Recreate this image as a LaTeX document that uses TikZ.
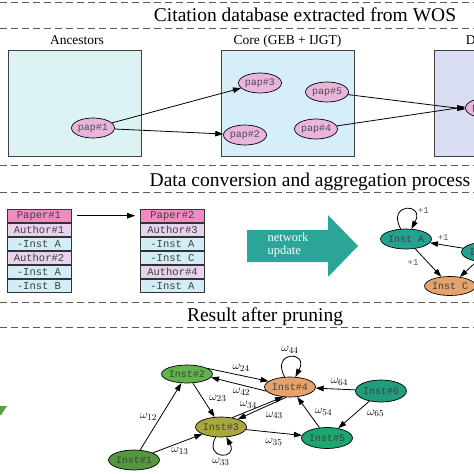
\documentclass[tikz,border=0pt]{standalone}
\usepackage{fontspec}
\setmainfont{Liberation Serif}
\setmonofont{Liberation Mono}
\usetikzlibrary{arrows.meta,shapes.geometric,positioning}

\definecolor{ancfill}{HTML}{DDF3F3}
\definecolor{corefill}{HTML}{D5EEF8}
\definecolor{descfill}{HTML}{D9DDF1}
\definecolor{papink}{HTML}{E9B5DC}
\definecolor{paperrow}{HTML}{EE8CC2}
\definecolor{authrow}{HTML}{E6D3EC}
\definecolor{instrow}{HTML}{D2EDF6}
\definecolor{tealarr}{HTML}{2AA597}
\definecolor{tealnode}{HTML}{23A38F}
\definecolor{orangenode}{HTML}{E5A26B}
\definecolor{greennode}{HTML}{62B34A}
\definecolor{olivenode}{HTML}{A9A73E}
\definecolor{sealnode}{HTML}{1E9E7C}

\tikzset{
  sep/.style={draw=black!65,line width=1pt,dash pattern=on 7pt off 4pt},
  title/.style={anchor=base,font=\fontsize{19.5}{20}\selectfont},
  grplbl/.style={anchor=base,font=\fontsize{13.5}{14}\selectfont},
  grp/.style={draw=black!75,line width=0.9pt,inner sep=0pt},
  pap/.style={ellipse,draw,line width=0.7pt,fill=papink,inner sep=0pt,
    minimum width=43pt,minimum height=20pt,text=black!70,
    font=\ttfamily\fontsize{10}{10}\selectfont},
  inst/.style={ellipse,draw,line width=0.7pt,inner sep=0pt,
    minimum width=42pt,minimum height=20pt,text=black!75,
    font=\ttfamily\fontsize{10}{10}\selectfont},
  row/.style={draw=black!80,line width=0.7pt,minimum width=64pt,
    minimum height=13.3pt,inner sep=0pt,text=black!75,
    font=\ttfamily\fontsize{10.5}{10}\selectfont},
  plus/.style={text=black!65,font=\ttfamily\fontsize{9}{9}\selectfont},
  wlbl/.style={font=\fontsize{13}{13}\selectfont},
  link/.style={->,line width=0.8pt},
  selfup/.style={loop above,out=118,in=62,min distance=30pt},
  selfdown/.style={loop below,out=-118,in=-62,min distance=26pt},
}

\begin{document}
\begin{tikzpicture}[x=1pt,y=-1pt,>={Triangle[length=8pt,width=5.5pt]}]
\useasboundingbox (0,0) rectangle (474,474);
\clip (0,0) rectangle (474,474);

% citation database
\draw[sep] (0,2) -- (474,2);
\node[title] (ttla) at (305,21) {Citation database extracted from WOS};
\draw[sep] (0,28) -- (474,28);

\node[grp,fill=ancfill,minimum width=133pt,minimum height=106pt] (anc) at (74.5,103) {};
\node[grp,fill=corefill,minimum width=133pt,minimum height=106pt] (core) at (287.5,103) {};
\node[grp,fill=descfill,minimum width=133pt,minimum height=106pt] (desc) at (500.5,103) {};
\node[grplbl] (ancl) at (77,44) {Ancestors};
\node[grplbl] (corel) at (287.5,44) {Core (GEB + IJGT)};
\node[grplbl] (descl) at (500,44) {Descendants};

\node[pap] (p1) at (93,128) {pap\#1};
\node[pap] (p2) at (245,135) {pap\#2};
\node[pap] (p3) at (260,83) {pap\#3};
\node[pap] (p4) at (316,129) {pap\#4};
\node[pap] (p5) at (327,92) {pap\#5};
\node[pap] (p6) at (487,108) {pap\#6};

\path (p1) edge[link] (p3);
\path (p1) edge[link] (p2);
\path (p5) edge[link] (p6.183);
\path (p4) edge[link] (p6.177);

% conversion
\draw[sep] (0,165) -- (474,165);
\node[title] (ttlb) at (310,186) {Data conversion and aggregation process};
\draw[sep] (0,192) -- (474,192);

\node[row,fill=paperrow] (ra1) at (39,215.7) {Paper\#1};
\node[row,fill=authrow,below=0pt of ra1] (ra2) {Author\#1};
\node[row,fill=instrow,below=0pt of ra2] (ra3) {-Inst A};
\node[row,fill=authrow,below=0pt of ra3] (ra4) {Author\#2};
\node[row,fill=instrow,below=0pt of ra4] (ra5) {-Inst A};
\node[row,fill=instrow,below=0pt of ra5] (ra6) {-Inst B};

\node[row,fill=paperrow] (rb1) at (172.5,215.7) {Paper\#2};
\node[row,fill=authrow,below=0pt of rb1] (rb2) {Author\#3};
\node[row,fill=instrow,below=0pt of rb2] (rb3) {-Inst A};
\node[row,fill=instrow,below=0pt of rb3] (rb4) {-Inst C};
\node[row,fill=authrow,below=0pt of rb4] (rb5) {Author\#4};
\node[row,fill=instrow,below=0pt of rb5] (rb6) {-Inst A};

\draw[link] ([xshift=6pt]ra1.east) -- ([xshift=-5pt]rb1.west);

\fill[tealarr] (247,230) -- (328,230) -- (328,215) -- (358,246)
  -- (328,277) -- (328,262) -- (247,262) -- cycle;
\node[text=white,align=left,anchor=west,font=\fontsize{12.5}{12.5}\selectfont] (upd) at (264,245) {network\\update};

\node[inst,fill=tealnode] (ia) at (406,239) {Inst A};
\node[inst,fill=tealnode,minimum width=44pt] (ib) at (487,252) {Inst B};
\node[inst,fill=orangenode,minimum width=43pt,minimum height=19pt] (ic) at (450,286) {Inst C};

\path (ia) edge[link,selfup] node[plus,right=3pt,pos=0.65] {+1} (ia);
\path (ib) edge[link] node[plus,above=1pt,pos=0.6] {+1} (ia);
\path (ia) edge[link] node[plus,left=6pt,pos=0.5] {+1} (ic);
\path (ib) edge[link] node[plus,below right,pos=0.3] {+1} (ic);

% pruning
\draw[sep] (0,302) -- (474,302);
\node[title] (ttlc) at (265,321) {Result after pruning};
\draw[sep] (0,327) -- (474,327);

\fill[greennode!90!black] (0,406) -- (7,406) -- (1,415) -- (0,415) -- cycle;

\node[inst,fill=greennode,minimum width=40pt,minimum height=18pt] (n2) at (187,374) {Inst\#2};
\node[inst,fill=olivenode] (n3) at (221,427) {Inst\#3};
\node[inst,fill=greennode!85!black] (n1) at (134,460) {Inst\#1};
\node[inst,fill=orangenode,minimum width=41pt] (n4) at (290,387) {Inst\#4};
\node[inst,fill=sealnode,minimum width=43pt,minimum height=22pt] (n6) at (381,391) {Inst\#6};
\node[inst,fill=sealnode!90!green,minimum width=44pt,minimum height=21pt] (n5) at (327,438) {Inst\#5};

\path (n1) edge[link] node[wlbl,left=0pt,pos=0.5] {$\omega_{12}$} (n2);
\path (n1) edge[link] node[wlbl,below=1pt,pos=0.55] {$\omega_{13}$} (n3);
\path (n2) edge[link] node[wlbl,right=3pt,pos=0.45] {$\omega_{23}$} (n3);
\path (n2.15) edge[link] node[wlbl,above,pos=0.55] {$\omega_{24}$} (n4.165);
\path (n4.190) edge[link] node[wlbl,below,pos=0.45] {$\omega_{42}$} (n2.352);
\path (n3.40) edge[link] node[wlbl,left=2pt,pos=0.6] {$\omega_{34}$} (n4.235);
\path (n4.250) edge[link] node[wlbl,below right=0pt,pos=0.5] {$\omega_{43}$} (n3.25);
\path (n3) edge[link,selfdown] node[wlbl,below] {$\omega_{33}$} (n3);
\path (n4) edge[link,selfup] node[wlbl,above] {$\omega_{44}$} (n4);
\path (n6) edge[link] node[wlbl,above,pos=0.4] {$\omega_{64}$} (n4);
\path (n5) edge[link] node[wlbl,right=3pt,pos=0.5] {$\omega_{54}$} (n4);
\path (n6) edge[link] node[wlbl,right=8pt,pos=0.45] {$\omega_{65}$} (n5);
\path (n3) edge[link] node[wlbl,below=2pt,pos=0.5] {$\omega_{35}$} (n5);

\end{tikzpicture}
\end{document}
